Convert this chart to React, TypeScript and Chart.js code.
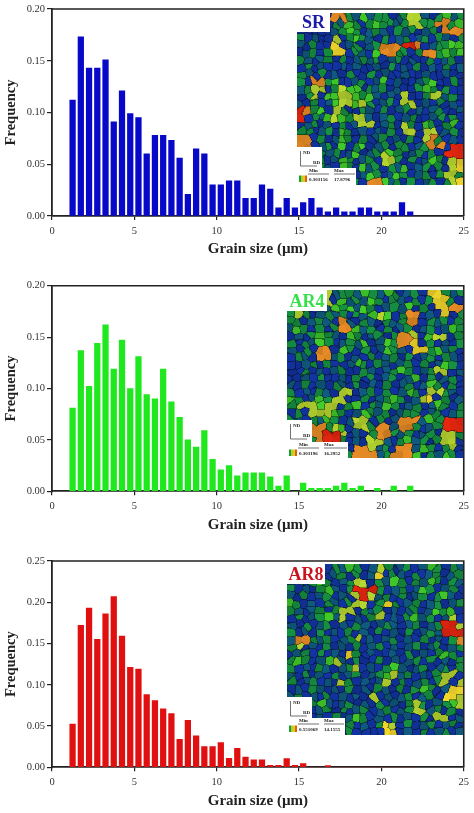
import React, { useEffect, useRef } from "react";
import { Chart, registerables } from "chart.js";
Chart.register(...registerables);

const binCenters = [1.25,1.75,2.25,2.75,3.25,3.75,4.25,4.75,5.25,5.75,6.25,6.75,7.25,7.75,8.25,8.75,9.25,9.75,10.25,10.75,11.25,11.75,12.25,12.75,13.25,13.75,14.25,14.75,15.25,15.75,16.25,16.75,17.25,17.75,18.25,18.75,19.25,19.75,20.25,20.75,21.25,21.75];
const srValues = [.112,.173,.143,.143,.151,.091,.121,.099,.095,.060,.078,.078,.073,.056,.021,.065,.060,.030,.030,.034,.034,.017,.017,.030,.026,.008,.017,.008,.013,.017,.008,.004,.008,.004,.004,.008,.008,.004,.004,.004,.013,.004];
const ar4Values = [.081,.137,.102,.144,.162,.119,.147,.100,.131,.094,.090,.119,.087,.072,.050,.043,.059,.031,.021,.025,.015,.018,.018,.018,.014,.005,.015,0,.008,.003,.003,.003,.005,.008,.003,.005,0,.003,0,.005,0,.005];
const ar8Values = [.0525,.172,.193,.155,.186,.207,.159,.121,.119,.088,.081,.071,.065,.034,.057,.038,.025,.025,.030,.011,.023,.0125,.009,.009,.0025,.0025,.0105,.0025,.0045,0,0,.002,0,0,0,0,0,0,0,0,0,0];

const srTicks = [0,0.05,0.1,0.15,0.2];
const arTicks = [0,0.05,0.1,0.15,0.2];
const ar8Ticks = [0,0.05,0.1,0.15,0.2,0.25];

const srMap = [
"bbbbboogtltggbtgyytbgltg",
"bbbbbgtlgbglggtgyyggoogl",
"bbbbbtglgbtgtbgtgbtgbooo",
"gbtbbybglgtbgbtgbtgbgtbg",
"tbgbbYbtgbtgooorrobtggll",
"btgbgYYbgtblooggbgooglgl",
"gtbtgbgbtgtgbtgbtbbgbtgb",
"bgbtbbtbtbbtbgbtbgbtbgbt",
"gtbgbtbgbbgbtbbtbbtbbtbb",
"gbooglbbtgbtlbtbbtglbbgb",
"tgyybgyllbgtgbtbbglgbgbb",
"bgybllyylgltbtbybbgyytgb",
"tbgbtlyylygbtgbyybtbgbtb",
"roglbygbbgtbgbtgbtbtgbbt",
"rbgtlylgyytbtgbtgbbtgbgb",
"btgbtbgbtyybtgbygblgbglb",
"ggbtgblgbtbtbgbyybyybtgb",
"oobgbtlgbgbtgbtbgbyogbtb",
"oobtgblbglbtgbggbtgoobrr",
"ggbgtgbtlbtgylgbtgbgbrrr",
"gbtgbtlgbtgbyygbgbtlgbyY",
"tgbgtblgbltgbgtlbtgbgbyY",
"btgbtgbgbtlgbtlgbtgbgyyg",
"gbtbgbtbgbooltgbgbtgbgyY",
];
const ar4Map = [
"yyyyyytggtlgtlgbtgbYYgtg",
"yyyyyybltgtlgbgtbgbgYYgb",
"gggbgtlgltlgbtgtlbgbYYoo",
"gygbtgtgbgtlylbgoobtbYbg",
"ggbtgtbotbgtbgtgoobgtgbg",
"tlgbgbgooltgbgbtgbtgbtlg",
"btbglgtblgbtgbgooyblyybg",
"gbgtlgbtgtlbtlgooYbgbtbg",
"tbgbooblgbgbtlgtbYYgltgb",
"bgtbootgbtbgbtgbgbtgbgtb",
"bbtgbgbbtlgbgtbtgbgbtlgb",
"bbgbtbtgbbgtbtglgbtgyybt",
"bbtbgbbtbgbgbtgbtlbgbtgb",
"tbgbtbgtbgbtbgbtgbtlgbgb",
"gbtbgtbyybtgbgbtlgbyygtb",
"lgbtlgyybbgbtglgbtyYbgbt",
"gyyylyybglbgtlgbtgbtlgbg",
"bgbyyylgbtlgtgbtggbtgbtg",
"gtbgtlgbtyybgbtoootlgrrr",
"tbooogylbyygootoogbtgrrr",
"bgooorrybtbgoogtgbtgbyyg",
"gtbgorrgbtbyytbgltgbgyyb",
"gbgbtgbtbooytgbootlgbgyb",
"tgbtgbtbgoootgooolbgtlgb",
];
const ar8Map = [
"bbbbbbgtlgbtygbtgbtlgbgt",
"bbbbbbtgbgbtYbgtbgbtgbtg",
"tgbglgbtgyybgtlgbgtlgbgt",
"gbtbgltbgrrrgbtgbtlgbtgb",
"tbgbtgbtbyrytgbgbtgbgltb",
"lgbtbgtbgyybgYgbtgbtgbtg",
"gtbtgbgyybgtgbtbtgbtlglb",
"bgbtgltybtbgybtbgltgbtyb",
"tbgbtgbtbgtbtgtbtgbtgrry",
"gbtbgbtbgbtbgbtbgbtgtrrr",
"toogtgbtgybtbtgbtbgbtbgo",
"gybtbgbtbgbtgbtbtgbtgbtg",
"btgbgbtbYgbtbbtbgbtbglgb",
"glgbtlytbgbbgbtbtgbgbtbg",
"gbtbgtbtgybtbgltbtgbtgbg",
"tbgbtbgbtgbtglytgbtbgyyb",
"gbtgbtbygbtbtybgbtgbgyby",
"btbgtbtbgbtbgtbgbglgbtYY",
"tgbtbgbtbtbybtbtgbtgbYYy",
"bgbgltbtgbtbgbtbgygbtgly",
"gbtbtgbgbtgbtgbtgyytgbgb",
"tbgbtbgbtlgbtbgbtbgbyybt",
"gbtbgtbtgbtbgYybgbtgbtgb",
"btgbbtgbgbbbbYYbtbgbtgbt",
];

const colorOf: Record<string, number[]> = {
  b: [16, 48, 150], t: [14, 84, 120], g: [20, 135, 62], l: [60, 190, 40],
  y: [170, 200, 45], Y: [225, 200, 40], o: [215, 130, 35], r: [215, 35, 15],
};

const mix = (a: number, b: number) => {
  let h = (a * 374761393 + b * 668265263) >>> 0;
  h = Math.imul(h ^ (h >>> 13), 1274126177) >>> 0;
  return ((h ^ (h >>> 16)) >>> 0) / 4294967296;
};

function grainMap(rows: string[], w: number, h: number) {
  const n = rows.length;
  const cw = w / n, ch = h / n;
  const seeds: any[] = [];
  rows.forEach((row, r) => {
    [...row].forEach((c, col) => {
      const big = "yYor".includes(c);
      const tone = 0.92 + mix(col + 7, r + 11) * 0.16;
      seeds.push({
        x: (col + 0.5 + (mix(col, r) - 0.5) * 0.7) * cw,
        y: (r + 0.5 + (mix(r + 31, col + 5) - 0.5) * 0.7) * ch,
        c, big, col: colorOf[c].map(v => Math.min(255, v * tone)),
      });
    });
  });
  const cv = document.createElement("canvas");
  cv.width = w; cv.height = h;
  const ctx = cv.getContext("2d")!;
  const img = ctx.createImageData(w, h);
  for (let py = 0; py < h; py++) {
    for (let px = 0; px < w; px++) {
      let d1 = 1e9, s1: any = null;
      const cc = Math.floor(px / cw), cr = Math.floor(py / ch);
      const near: any[] = [];
      for (let r = Math.max(0, cr - 2); r <= Math.min(n - 1, cr + 2); r++) {
        for (let c = Math.max(0, cc - 2); c <= Math.min(n - 1, cc + 2); c++) {
          const s = seeds[r * n + c];
          const d = Math.hypot(s.x - px, s.y - py);
          near.push([d, s]);
          if (d < d1) { d1 = d; s1 = s; }
        }
      }
      let d2 = 1e9;
      for (const [d, s] of near) {
        if (s === s1 || (s.big && s1.big && s.c === s1.c)) continue;
        if (d < d2) d2 = d;
      }
      const edge = d2 - d1 < 0.9 ? 0.6 : 1;
      const i = (py * w + px) * 4;
      img.data[i] = s1.col[0] * edge;
      img.data[i + 1] = s1.col[1] * edge;
      img.data[i + 2] = s1.col[2] * edge;
      img.data[i + 3] = 255;
    }
  }
  ctx.putImageData(img, 0, 0);
  return cv;
}

const insetPlugin = {
  id: "inset",
  afterDraw(chart: any, _a: any, o: any) {
    const { ctx, chartArea: a } = chart;
    ctx.save();
    ctx.strokeStyle = "#222";
    ctx.lineWidth = 1.6;
    ctx.beginPath();
    ctx.moveTo(a.left, a.top); ctx.lineTo(a.right, a.top); ctx.lineTo(a.right, a.bottom);
    ctx.stroke();

    const { x, y, w, h } = o.box;
    const map = grainMap(o.rows, w, h);
    ctx.filter = "blur(0.7px)";
    ctx.drawImage(map, x, y);
    ctx.filter = "none";

    ctx.fillStyle = "#fff";
    ctx.fillRect(x, y, o.label.w, o.label.h);
    ctx.fillRect(x, y + h - o.corner.h1 - o.corner.h2, o.corner.w1, o.corner.h1 + o.corner.h2);
    ctx.fillRect(x, y + h - o.corner.h2, o.corner.w2, o.corner.h2);

    ctx.fillStyle = o.labelColor;
    ctx.font = "bold 18px 'Liberation Serif'";
    ctx.textAlign = "center";
    ctx.textBaseline = "alphabetic";
    ctx.fillText(o.name, x + o.label.w / 2, y + o.label.h - 4);

    const cy = y + h - o.corner.h1 - o.corner.h2;
    ctx.strokeStyle = "#333"; ctx.lineWidth = 0.7; ctx.fillStyle = "#222";
    ctx.beginPath();
    ctx.moveTo(x + 3.5, cy + 4); ctx.lineTo(x + 3.5, cy + 19); ctx.lineTo(x + 20, cy + 19);
    ctx.stroke();
    ctx.font = "bold 5px 'Liberation Serif'";
    ctx.textAlign = "left";
    ctx.fillText("ND", x + 6, cy + 7);
    ctx.fillText("RD", x + 16, cy + 17);
    const by = y + h - o.corner.h2;
    ctx.fillText("Min", x + 12, by + 4);
    ctx.fillText("Max", x + 37, by + 4);
    ctx.fillText(o.min, x + 12, by + 13);
    ctx.fillText(o.max, x + 37, by + 13);
    ctx.beginPath();
    ctx.moveTo(x + 11, by + 6); ctx.lineTo(x + 32, by + 6);
    ctx.moveTo(x + 37, by + 6); ctx.lineTo(x + o.corner.w2 - 1, by + 6);
    ctx.stroke();
    ["#12a040", "#b5d020", "#e8c820", "#e06010"].forEach((c, i) => {
      ctx.fillStyle = c;
      ctx.fillRect(x + 2 + i * 2, by + 7.5, 2, 6.5);
    });
    ctx.restore();
  },
};

function Panel({ top, height, chartTop, chartBottom, titleGap, values, ticks, max, color, inset }: any) {
  const ref = useRef<HTMLCanvasElement>(null);
  useEffect(() => {
    const chart = new Chart(ref.current!, {
      type: "bar",
      plugins: [insetPlugin],
      data: {
        datasets: [{
          data: binCenters.map((x, i) => ({ x, y: values[i] })),
          backgroundColor: color,
          barThickness: 5.6,
        }],
      },
      options: {
        responsive: false,
        animation: false,
        devicePixelRatio: 1,
        layout: { padding: { top: chartTop, right: 9, left: 0, bottom: 0 } },
        plugins: { legend: { display: false }, tooltip: { enabled: false }, inset } as any,
        scales: {
          x: {
            type: "linear", min: 0, max: 25, offset: false,
            afterFit: (s: any) => { s.height = height - chartBottom; },
            grid: { display: true, offset: false, drawOnChartArea: false, drawTicks: true, tickLength: 4, color: "#222", lineWidth: 1.2 },
            border: { color: "#222", width: 1.8 },
            ticks: { stepSize: 5, color: "#333", font: { family: "'Liberation Serif'", size: 10.5 }, maxRotation: 0, padding: 5 },
            title: { display: true, text: "Grain size (µm)", color: "#222", font: { family: "'Liberation Serif'", weight: "bold", size: 15 }, padding: { top: 0, bottom: titleGap } },
          },
          y: {
            min: 0, max,
            afterFit: (s: any) => { s.width = 52; },
            afterBuildTicks: (s: any) => { s.ticks = ticks.map((value: number) => ({ value })); },
            grid: { display: true, offset: false, drawOnChartArea: false, drawTicks: true, tickLength: 5, color: "#222", lineWidth: 1.2 },
            border: { color: "#222", width: 1.8 },
            ticks: { callback: (v: any) => Number(v).toFixed(2), color: "#333", font: { family: "'Liberation Serif'", size: 10.5 }, padding: 2 },
            title: { display: true, text: "Frequency", color: "#222", font: { family: "'Liberation Serif'", weight: "bold", size: 14.5 }, padding: { top: 3, bottom: 0 } },
          },
        },
      } as any,
    });
    return () => chart.destroy();
  }, []);
  return <canvas ref={ref} width={474} height={height} style={{ position: "absolute", left: 0, top, display: "block" }} />;
}

export default function App() {
  return (
    <div style={{ position: "absolute", left: 0, top: 0, width: 474, height: 813, background: "#fff", overflow: "hidden" }}>
      <Panel top={0} height={270} chartTop={9} chartBottom={216} titleGap={12} values={srValues} ticks={srTicks} max={0.2} color="#0808c8"
        inset={{ name: "SR", labelColor: "#1a1aa8", rows: srMap, box: { x: 297, y: 13, w: 166, h: 172 }, label: { w: 33, h: 19 }, corner: { w1: 25, h1: 21, w2: 59, h2: 17 }, min: "0.303156", max: "17.8796" }} />
      <Panel top={275} height={265} chartTop={10.7} chartBottom={216.3} titleGap={6} values={ar4Values} ticks={arTicks} max={0.2} color="#1fe81f"
        inset={{ name: "AR4", labelColor: "#35e04a", rows: ar4Map, box: { x: 287, y: 15, w: 176, h: 168 }, label: { w: 40, h: 21 }, corner: { w1: 25, h1: 22, w2: 61, h2: 16 }, min: "0.303196", max: "16.2952" }} />
      <Panel top={548} height={265} chartTop={13} chartBottom={219.3} titleGap={3} values={ar8Values} ticks={ar8Ticks} max={0.25} color="#e01010"
        inset={{ name: "AR8", labelColor: "#c8141e", rows: ar8Map, box: { x: 287, y: 16, w: 176, h: 171 }, label: { w: 38, h: 20 }, corner: { w1: 25, h1: 21, w2: 58, h2: 17 }, min: "0.551069", max: "14.1555" }} />
    </div>
  );
}
